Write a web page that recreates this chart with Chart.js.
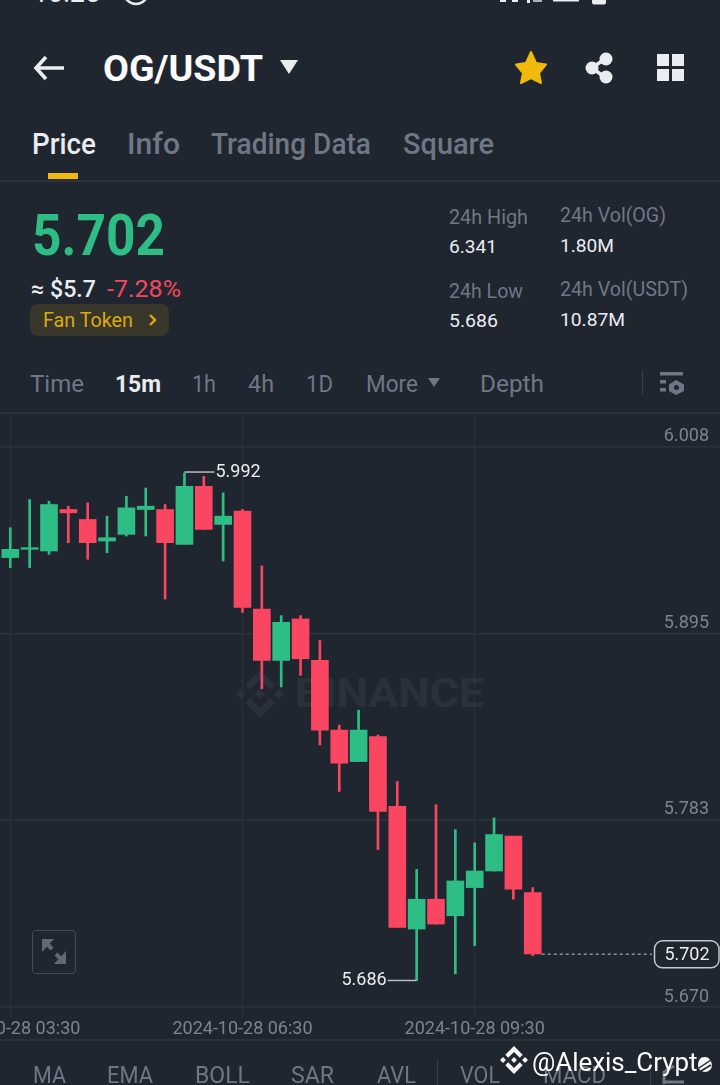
<!DOCTYPE html>
<html>
<head>
<meta charset="utf-8">
<script src="https://cdn.jsdelivr.net/npm/chart.js@4/dist/chart.umd.min.js"></script>
<style>
html, body { margin: 0; padding: 0; background: #1f2630; }
#page { position: relative; width: 720px; height: 1085px; overflow: hidden; background: #1f2630; font-family: Roboto, sans-serif; }
.t { position: absolute; white-space: nowrap; transform: translateY(-50%); transform-origin: left center; color: #6f7784; }
.w { color: #eaecef; }
.box { position: absolute; }
.line { position: absolute; background: #2b323e; }
svg { position: absolute; overflow: visible; }
canvas { position: absolute; left: 0; top: 413px; }
</style>
</head>
<body>
<div id="page">
  <svg width="0" height="0"><defs>
    <g id="bn">
      <polygon points="0,-5 5,0 0,5 -5,0"/>
      <polygon points="-24,0 -19,-5 -14,0 -19,5"/>
      <polygon points="24,0 19,-5 14,0 19,5"/>
      <polygon points="0,-24 15,-9 10,-4 0,-14 -10,-4 -15,-9"/>
      <polygon points="0,24 15,9 10,4 0,14 -10,4 -15,9"/>
    </g>
  </defs></svg>

  <!-- status bar, cut off by the top of the screenshot -->
  <span class="t w" style="left:33px;top:-7px;font-size:26px" data-w="67">10:25</span>
  <svg style="left:0;top:0" width="720" height="10">
    <circle cx="136" cy="-8" r="12" fill="none" stroke="#eaecef" stroke-width="2.5"/>
    <rect x="500" y="-8" width="6" height="10" fill="#eaecef"/><rect x="512" y="-8" width="6" height="10" fill="#eaecef"/>
    <rect x="527" y="-8" width="3" height="11" fill="#eaecef"/><rect x="533" y="-8" width="9" height="10" fill="#aeb2b8"/>
    <rect x="553" y="-8" width="26" height="9.5" fill="#eaecef"/>
    <rect x="592" y="-8" width="14" height="12.5" rx="2" fill="#eaecef"/>
  </svg>
  <span class="t w" style="left:617px;top:-9px;font-size:26px" data-w="49">54%</span>

  <!-- header -->
  <svg style="left:0;top:0" width="720" height="100">
    <path d="M36 68H64M46 57L36 68L46 79" fill="none" stroke="#eaecef" stroke-width="3.6"/>
    <polygon points="280,60 298,60 289,74" fill="#eaecef"/>
    <polygon points="531,52 536,63 546,64.5 539,73 541,83 531,78 521,83 523,73 516,64.5 526,63" fill="#f0b90b" stroke="#f0b90b" stroke-width="2" stroke-linejoin="round"/>
    <path d="M606 58L592 68L606 78" fill="none" stroke="#eaecef" stroke-width="3.5"/>
    <circle cx="606" cy="59" r="6.5" fill="#eaecef"/><circle cx="592" cy="68" r="6.5" fill="#eaecef"/><circle cx="606" cy="77" r="6.5" fill="#eaecef"/>
    <rect x="657" y="54" width="12" height="12" fill="#eaecef"/><rect x="672" y="54" width="12" height="12" fill="#eaecef"/>
    <rect x="657" y="69" width="12" height="12" fill="#eaecef"/><rect x="672" y="69" width="12" height="12" fill="#eaecef"/>
  </svg>
  <span class="t" style="left:103px;top:69px;font-size:36px;font-weight:700;color:#fafafa" data-w="160">OG/USDT</span>

  <span class="t w" style="left:32px;top:144px;font-size:29px;font-weight:500" data-w="64">Price</span>
  <span class="t" style="left:127px;top:144px;font-size:29px;font-weight:500" data-w="53">Info</span>
  <span class="t" style="left:211px;top:144px;font-size:29px;font-weight:500" data-w="160">Trading Data</span>
  <span class="t" style="left:403px;top:144px;font-size:29px;font-weight:500" data-w="91">Square</span>
  <div class="box" style="left:48px;top:173px;width:30px;height:6px;background:#f0b90b"></div>
  <div class="line" style="left:0;top:180px;width:720px;height:1.5px"></div>

  <!-- price block -->
  <span class="t" style="left:32px;top:235px;font-size:58px;font-weight:700;color:#2ebd85" data-w="133">5.702</span>
  <span class="t w" style="left:31px;top:289px;font-size:23px;font-weight:500" data-w="65">≈ $5.7</span>
  <span class="t" style="left:107px;top:289px;font-size:23px;color:#f6465d" data-w="74">-7.28%</span>
  <div class="box" style="left:30px;top:304px;width:139px;height:32px;border-radius:8px;background:#39362a"></div>
  <span class="t" style="left:43px;top:320px;font-size:21px;color:#dcaa0e" data-w="90">Fan Token</span>
  <svg style="left:0;top:0" width="720" height="400"><path d="M150 315L155 320L150 325" fill="none" stroke="#dcaa0e" stroke-width="2.4"/></svg>

  <span class="t" style="left:449px;top:217px;font-size:20px" data-w="79">24h High</span>
  <span class="t w" style="left:449px;top:246px;font-size:19px" data-w="48">6.341</span>
  <span class="t" style="left:560px;top:215px;font-size:20px" data-w="106">24h Vol(OG)</span>
  <span class="t w" style="left:560px;top:245px;font-size:19px" data-w="54">1.80M</span>
  <span class="t" style="left:449px;top:291px;font-size:20px" data-w="74">24h Low</span>
  <span class="t w" style="left:449px;top:320px;font-size:19px" data-w="49">5.686</span>
  <span class="t" style="left:560px;top:289px;font-size:20px" data-w="128">24h Vol(USDT)</span>
  <span class="t w" style="left:560px;top:319px;font-size:19px" data-w="65">10.87M</span>

  <!-- interval row -->
  <span class="t" style="left:30px;top:384px;font-size:24px" data-w="54">Time</span>
  <span class="t w" style="left:115px;top:384px;font-size:24px;font-weight:700" data-w="46">15m</span>
  <span class="t" style="left:192px;top:384px;font-size:24px" data-w="24">1h</span>
  <span class="t" style="left:248px;top:384px;font-size:24px" data-w="26">4h</span>
  <span class="t" style="left:306px;top:384px;font-size:24px" data-w="27">1D</span>
  <span class="t" style="left:366px;top:384px;font-size:24px" data-w="52">More</span>
  <span class="t" style="left:480px;top:384px;font-size:24px" data-w="64">Depth</span>
  <svg style="left:0;top:0" width="720" height="420">
    <polygon points="428,378 440,378 434,387" fill="#6f7784"/>
    <rect x="642" y="370" width="1" height="24" fill="#3a414d"/>
    <rect x="660" y="372" width="23" height="3.5" fill="#6f7784"/>
    <rect x="660" y="380" width="6" height="3.5" fill="#6f7784"/><rect x="660" y="388" width="6" height="3.5" fill="#6f7784"/>
    <polygon points="676,380 684,384.5 684,391 676,395 669,391 669,384.5" fill="#6f7784"/><circle cx="676.5" cy="387.5" r="2.5" fill="#1f2630"/>
  </svg>
  <div class="line" style="left:0;top:412px;width:720px;height:1.5px"></div>

  <!-- watermark sits under the chart canvas -->
  <svg style="left:260px;top:694px" width="1" height="1"><use href="#bn" fill="#2b313c"/></svg>
  <span class="t" style="left:295px;top:693px;font-size:40px;font-weight:700;color:#2b313c" data-w="189">BINANCE</span>

  <canvas id="chart" width="720" height="641"></canvas>

  <!-- expand button -->
  <div class="box" style="left:32px;top:930px;width:42px;height:42px;border:1.5px solid #434a56;border-radius:4px"></div>
  <svg style="left:0;top:0" width="720" height="1085">
    <path d="M42 939H54L42 952ZM66 964H54L66 951Z" fill="#626975"/>
    <path d="M46 943L52 949M56 954L62 960" stroke="#626975" stroke-width="4"/>
  </svg>

  <div class="line" style="left:0;top:1039px;width:720px;height:1.5px"></div>

  <!-- indicator row -->
  <span class="t" style="left:33px;top:1075px;font-size:24px" data-w="33">MA</span>
  <span class="t" style="left:107px;top:1075px;font-size:24px" data-w="46">EMA</span>
  <span class="t" style="left:195px;top:1075px;font-size:24px" data-w="55">BOLL</span>
  <span class="t" style="left:291px;top:1075px;font-size:24px" data-w="43">SAR</span>
  <span class="t" style="left:377px;top:1075px;font-size:24px" data-w="39">AVL</span>
  <div class="box" style="left:437px;top:1060px;width:1px;height:25px;background:#3a414d"></div>
  <span class="t" style="left:460px;top:1075px;font-size:24px" data-w="40">VOL</span>
  <span class="t" style="left:543px;top:1075px;font-size:24px" data-w="63">MACD</span>
  <svg style="left:0;top:0" width="720" height="1085">
    <rect x="650" y="1062" width="1" height="23" fill="#3a414d"/>
    <path d="M664 1084V1072L674 1066M664 1082H684" fill="none" stroke="#6f7784" stroke-width="3"/>
  </svg>

  <!-- uploader tag on top of everything -->
  <svg style="left:514px;top:1060px" width="1" height="1"><use href="#bn" fill="#f5f5f5" transform="scale(0.58)"/></svg>
  <span class="t" style="left:532px;top:1062px;font-size:26px;color:#ffffff" data-w="180">@Alexis_Crypto</span>
  <svg style="left:0;top:0" width="720" height="1085">
    <circle cx="705" cy="1065" r="7" fill="#f5f5f5"/>
    <path d="M699 1068L711 1060M701 1071L711 1065" stroke="#1f2630" stroke-width="1.5"/>
  </svg>
</div>

<script>
// one entry per 15m candle, oldest first
const times = [
  "2024-10-28 03:30", "2024-10-28 03:45", "2024-10-28 04:00", "2024-10-28 04:15",
  "2024-10-28 04:30", "2024-10-28 04:45", "2024-10-28 05:00", "2024-10-28 05:15",
  "2024-10-28 05:30", "2024-10-28 05:45", "2024-10-28 06:00", "2024-10-28 06:15",
  "2024-10-28 06:30", "2024-10-28 06:45", "2024-10-28 07:00", "2024-10-28 07:15",
  "2024-10-28 07:30", "2024-10-28 07:45", "2024-10-28 08:00", "2024-10-28 08:15",
  "2024-10-28 08:30", "2024-10-28 08:45", "2024-10-28 09:00", "2024-10-28 09:15",
  "2024-10-28 09:30", "2024-10-28 09:45", "2024-10-28 10:00", "2024-10-28 10:15"
]
const opens = [5.941, 5.946, 5.945, 5.970, 5.964, 5.951, 5.955, 5.970, 5.970, 5.949, 5.984, 5.961, 5.969, 5.910,
               5.879, 5.904, 5.879, 5.837, 5.818, 5.833, 5.791, 5.717, 5.735, 5.725, 5.742, 5.752, 5.773, 5.739]
const closes = [5.946, 5.947, 5.973, 5.968, 5.950, 5.953, 5.971, 5.972, 5.950, 5.984, 5.958, 5.966, 5.911, 5.879,
                5.902, 5.880, 5.837, 5.817, 5.837, 5.788, 5.718, 5.735, 5.720, 5.746, 5.752, 5.774, 5.741, 5.702]
const highs = [5.959, 5.976, 5.975, 5.972, 5.974, 5.966, 5.978, 5.983, 5.973, 5.992, 5.990, 5.980, 5.970, 5.936,
               5.906, 5.906, 5.891, 5.840, 5.849, 5.834, 5.806, 5.753, 5.792, 5.777, 5.769, 5.784, 5.773, 5.742]
const lows = [5.935, 5.935, 5.943, 5.950, 5.940, 5.944, 5.954, 5.954, 5.916, 5.949, 5.958, 5.939, 5.908, 5.862,
              5.863, 5.870, 5.828, 5.800, 5.818, 5.765, 5.718, 5.686, 5.720, 5.690, 5.707, 5.752, 5.735, 5.701]
const priceTicks = [5.670, 5.783, 5.895, 6.008]
const timeTicks = [0, 12, 24]

const UP = "#2ebd85"
const DOWN = "#fb4661"
const GRID = "#2b323e"
const AXIS_TEXT = "#7c8491"
const candleColor = opens.map((o, i) => closes[i] >= o ? UP : DOWN)

// squeeze the DOM labels to the measured widths of the app's narrower font
document.querySelectorAll(".t[data-w]").forEach(el => {
  const k = el.dataset.w / el.getBoundingClientRect().width
  el.style.transform = "translateY(-50%) scaleX(" + k + ")"
})

// hi/lo callouts and the last price tag
const callouts = {
  id: "callouts",
  afterDatasetsDraw(chart) {
    const { ctx, scales: { x, y } } = chart
    ctx.save()
    ctx.font = "18px Roboto"
    ctx.textBaseline = "middle"
    ctx.lineWidth = 1.5

    const hi = Math.max(...highs), hiX = x.getPixelForValue(highs.indexOf(hi)), hiY = y.getPixelForValue(hi) - 1
    ctx.strokeStyle = "#b7bdc6"
    ctx.beginPath(); ctx.moveTo(hiX, hiY); ctx.lineTo(hiX + 30, hiY); ctx.stroke()
    ctx.fillStyle = "#eaecef"
    ctx.textAlign = "left"
    ctx.fillText(hi.toFixed(3), hiX + 31, hiY)

    const lo = Math.min(...lows), loX = x.getPixelForValue(lows.indexOf(lo)), loY = y.getPixelForValue(lo)
    ctx.beginPath(); ctx.moveTo(loX, loY); ctx.lineTo(loX - 29, loY); ctx.stroke()
    ctx.textAlign = "right"
    ctx.fillText(lo.toFixed(3), loX - 30, loY)

    const last = closes[closes.length - 1], lastX = x.getPixelForValue(closes.length - 1), lastY = y.getPixelForValue(last) + 0.4
    ctx.strokeStyle = "#8a9099"
    ctx.setLineDash([3, 3])
    ctx.beginPath(); ctx.moveTo(lastX + 9, lastY); ctx.lineTo(652, lastY); ctx.stroke()
    ctx.setLineDash([])
    ctx.strokeStyle = "#c4c8ce"
    ctx.fillStyle = "#1f2630"
    ctx.beginPath(); ctx.roundRect(654.5, lastY - 13.5, 64.5, 27, 8); ctx.fill(); ctx.stroke()
    ctx.fillStyle = "#eaecef"
    ctx.textAlign = "center"
    ctx.fillText(last.toFixed(3), 687, lastY + 1)
    ctx.restore()
  }
}

new Chart(document.getElementById("chart"), {
  type: "bar",
  data: {
    datasets: [
      {
        label: "wick",
        data: times.map((t, i) => ({ x: i, y: [lows[i], highs[i]] })),
        backgroundColor: candleColor,
        barThickness: 2,
        grouped: false,
        order: 2
      },
      {
        label: "body",
        data: times.map((t, i) => ({ x: i, y: [opens[i], closes[i]] })),
        backgroundColor: candleColor,
        barThickness: 17,
        grouped: false,
        order: 1
      }
    ]
  },
  options: {
    responsive: false,
    animation: false,
    layout: { padding: 0 },
    plugins: { legend: { display: false }, tooltip: { enabled: false } },
    scales: {
      x: {
        type: "linear",
        offset: false,
        min: -0.532,
        max: 36.677,
        afterBuildTicks: s => { s.ticks = timeTicks.map(v => ({ value: v })) },
        afterFit: s => { s.paddingLeft = 0; s.paddingRight = 0; s.height = 47 },
        grid: { offset: false, color: GRID, lineWidth: 1, tickLength: 10, tickColor: GRID },
        border: { display: false },
        ticks: {
          autoSkip: false,
          maxRotation: 0,
          padding: 2,
          color: AXIS_TEXT,
          font: { family: "Roboto", size: 18 },
          callback: v => times[v]
        }
      },
      y: {
        type: "linear",
        position: "right",
        min: 5.670,
        max: 6.0282,
        afterBuildTicks: s => { s.ticks = priceTicks.map(v => ({ value: v })) },
        afterFit: s => { s.paddingTop = 0; s.paddingBottom = 0; s.width = 0 },
        grid: { color: GRID, lineWidth: 1.5, drawTicks: false },
        border: { display: false },
        ticks: {
          mirror: true,
          padding: -11,
          align: "end",
          labelOffset: -1,
          color: AXIS_TEXT,
          font: { family: "Roboto", size: 18 },
          callback: v => v.toFixed(3)
        }
      }
    }
  },
  plugins: [callouts]
})
</script>
</body>
</html>
